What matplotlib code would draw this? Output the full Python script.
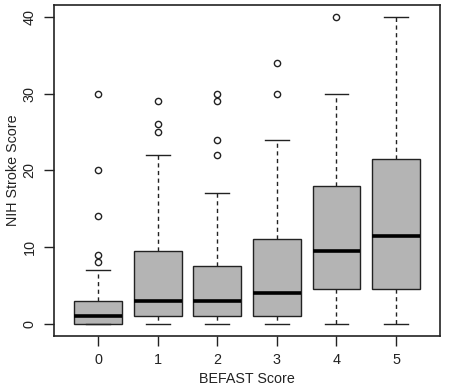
import matplotlib
matplotlib.use("Agg")
import matplotlib.pyplot as plt

plt.rcParams['font.family'] = ['Liberation Sans', 'DejaVu Sans']

categories = ["0", "1", "2", "3", "4", "5"]
q1 = [0, 1, 1, 1, 4.5, 4.5]
medians = [1, 3, 3, 4, 9.5, 11.5]
q3 = [3, 9.5, 7.5, 11, 18, 21.5]
whislo = [0, 0, 0, 0, 0, 0]
whishi = [7, 22, 17, 24, 30, 40]
outliers = [
    [8, 9, 14, 20, 30],
    [25, 26, 29],
    [22, 24, 29, 30],
    [30, 34],
    [40],
    [],
]
yticks = [0, 10, 20, 30, 40]

stats = []
for i, c in enumerate(categories):
    stats.append(dict(label=c, q1=q1[i], med=medians[i], q3=q3[i],
                      whislo=whislo[i], whishi=whishi[i], fliers=outliers[i]))

fig = plt.figure(figsize=(4.5, 3.89), dpi=100)
ax = fig.add_axes([0.12, 0.1362, 0.858, 0.852])

positions = list(range(len(categories)))
ax.bxp(stats, positions=positions, widths=0.8, patch_artist=True,
       showfliers=True,
       boxprops=dict(facecolor='#b4b4b4', edgecolor='#222222', linewidth=1.0),
       medianprops=dict(color='black', linewidth=2.6, solid_capstyle='butt'),
       whiskerprops=dict(color='#222222', linewidth=1.0, linestyle=(0, (3, 2.5))),
       capprops=dict(color='#222222', linewidth=1.0),
       capwidths=0.4,
       flierprops=dict(marker='o', markerfacecolor='white', markeredgecolor='#222222',
                       markersize=4.5, markeredgewidth=1.0, linestyle='none'))

ax.set_xlim(-0.74, 5.74)
ax.set_ylim(-1.6, 41.6)
ax.set_xticks(positions)
ax.set_xticklabels(categories)
ax.set_yticks(yticks)
ax.set_yticklabels([str(t) for t in yticks], rotation=90, va='center')
ax.tick_params(axis='both', direction='out', length=7, width=1.0,
               labelsize=10.4, color='#222222', labelcolor='#222222', pad=5.5)
for s in ax.spines.values():
    s.set_linewidth(1.2)
    s.set_color('#222222')

ax.set_xlabel("BEFAST Score", fontsize=10.3, color='#222222', va='center')
ax.set_ylabel("NIH Stroke Score", fontsize=10.3, color='#222222', va='center')
ax.xaxis.set_label_coords(0.5, -0.13)
ax.yaxis.set_label_coords(-0.106, 0.5)

fig.savefig("out.png", dpi=100)
